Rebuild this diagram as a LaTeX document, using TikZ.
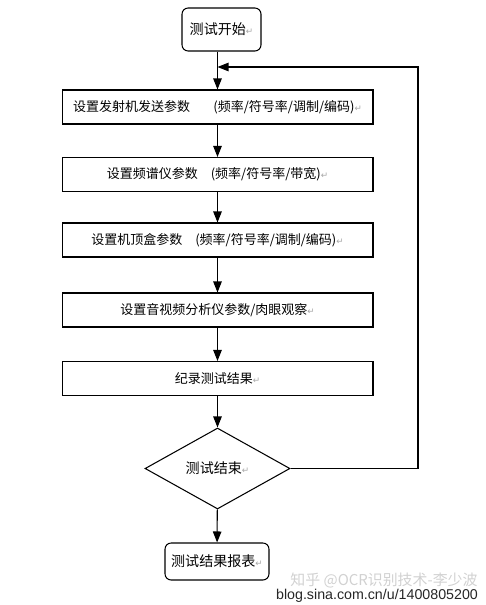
\documentclass[tikz,border=0pt]{standalone}
\usepackage{fontspec}
\setmainfont{Noto Sans CJK SC}
\newfontfamily\urlfont{Liberation Sans}
\newfontfamily\symfont{DejaVu Sans}
\usepackage{tikz}
\usetikzlibrary{shapes.geometric, arrows.meta}

% 段落标记
\newcommand{\parmark}{{\symfont\color{black!35}\fontsize{5}{5}\selectfont ↵}}

\begin{document}
\begin{tikzpicture}[x=0.02cm, y=-0.02cm, >={Triangle[length=2.2mm,width=1.7mm]},
    every node/.style={font=\fontsize{7.4}{9}\selectfont},
    stepbox/.style={draw, line width=0.6pt, minimum width=6.22cm, minimum height=0.68cm, inner sep=0pt},
    termbox/.style={draw, line width=0.6pt, rounded corners=3.5pt, inner sep=0pt, font=\fontsize{8}{10}\selectfont},
    decide/.style={draw, line width=0.6pt, diamond, minimum width=2.9cm, minimum height=1.62cm, inner sep=0pt, font=\fontsize{8}{10}\selectfont},
    flow/.style={->, line width=0.6pt}]
            \useasboundingbox (0,0) rectangle (485,605);

            % 开始
            \node[termbox, minimum width=1.58cm, minimum height=0.86cm] (start) at (221.5,29.5) {测试开始\parmark};

            % 各个步骤
            \node[stepbox] (b1) at (217.5,107) {设置发射机发送参数\hspace{1.8em}(频率/符号率/调制/编码)\parmark};
            \node[stepbox] (b2) at (217.5,174.5) {设置频谱仪参数\hspace{1em}(频率/符号率/带宽)\parmark};
            \node[stepbox] (b3) at (217.5,240) {设置机顶盒参数\hspace{1em}(频率/符号率/调制/编码)\parmark};
            \node[stepbox] (b4) at (217.5,310) {设置音视频分析仪参数/肉眼观察\parmark};
            \node[stepbox] (b5) at (217.5,378.5) {纪录测试结果\parmark};

            % 判断
            \node[decide] (d) at (217.5,468.5) {测试结束\parmark};

            % 结束
            \node[termbox, minimum width=2.08cm, minimum height=0.74cm] (stop) at (217,561.5) {测试结果报表\parmark};

            % 连线
            \coordinate (join) at (217.5,67);
            \coordinate (turn) at (418,67);
            \draw[flow] (start.south -| b1.north) -- (b1.north);
            \draw[flow] (b1) -- (b2);
            \draw[flow] (b2) -- (b3);
            \draw[flow] (b3) -- (b4);
            \draw[flow] (b4) -- (b5);
            \draw[flow] (b5) -- (d);
            \draw[flow] (d) -- (stop);

            % 返回
            \draw[flow] (d.east) -| (turn) -- (join);

            % 水印
            \node[text=black!18, font=\fontsize{8.5}{10}\selectfont] (wm) at (384,581) {知乎 @OCR识别技术-李少波};
            \node[text=black!85, font=\urlfont\fontsize{8.1}{10}\selectfont] (url) at (377,595.5) {blog.sina.com.cn/u/1400805200};
        \end{tikzpicture}
\end{document}
